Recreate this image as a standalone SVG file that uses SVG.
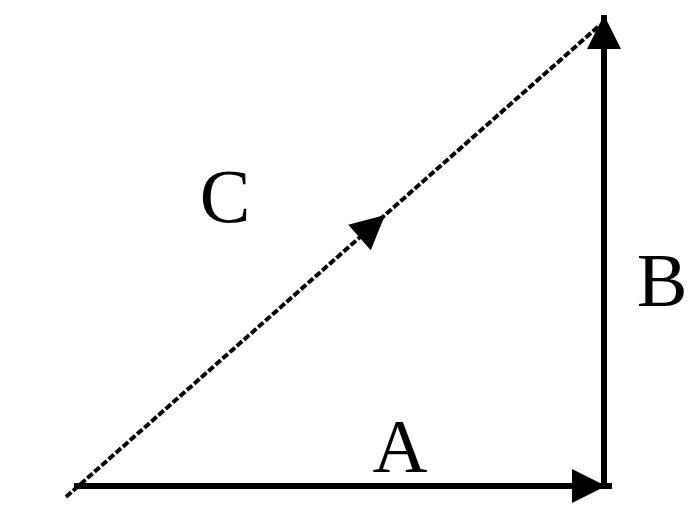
<svg xmlns="http://www.w3.org/2000/svg" width="694" height="517" viewBox="0 0 694 517">
<style>
.line{fill:none;stroke:#000;stroke-width:6;stroke-linecap:butt}
.dotted{fill:none;stroke:#000;stroke-width:4;stroke-dasharray:7 2.5}
.lbl{font-family:"Liberation Serif","DejaVu Serif",serif;font-size:76px;fill:#000;text-anchor:middle}
</style>
<defs>
<marker id="arrow" markerUnits="userSpaceOnUse" orient="auto" markerWidth="40" markerHeight="40" viewBox="-36 -20 40 40" refX="0" refY="0" overflow="visible">
<path d="M0,0 L-34,-17 L-34,17 Z" fill="#000"/>
</marker>
</defs>
<rect width="694" height="517" fill="#fff"/>
<g id="connectors">
<path id="A-line" class="line" d="M74,486 L606,486" marker-end="url(#arrow)"/>
<path id="B-line" class="line" d="M604,489 L604,15" marker-end="url(#arrow)"/>
<path d="M604,486 L612,486" class="line"/>
<path id="C-line" class="dotted" d="M66,497 L385,215 L600,25" marker-mid="url(#arrow)"/>
</g>
<g id="label-C"><text class="lbl" x="225" y="222">C</text></g>
<g id="label-B"><text class="lbl" x="662" y="306">B</text></g>
<g id="label-A"><text class="lbl" x="400" y="472">A</text></g>
</svg>
